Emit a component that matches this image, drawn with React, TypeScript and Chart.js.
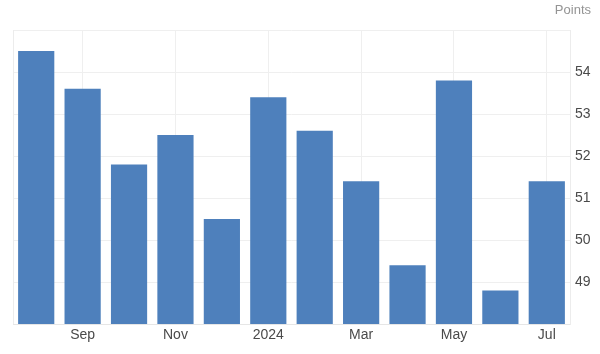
import React, { useEffect, useRef } from "react";
import { Chart, registerables } from "chart.js";

Chart.register(...registerables);

const categories = ["Aug", "Sep", "Oct", "Nov", "Dec", "2024", "Feb", "Mar", "Apr", "May", "Jun", "Jul"];
const values = [54.5, 53.6, 51.8, 52.5, 50.5, 53.4, 52.6, 51.4, 49.4, 53.8, 48.8, 51.4];
const shownXLabels = ["Sep", "Nov", "2024", "Mar", "May", "Jul"];
const yTickLabels = [49, 50, 51, 52, 53, 54];
const unitLabel = "Points";

const FONT = "'Liberation Sans', Arial, sans-serif";

export default function App() {
  const ref = useRef<HTMLCanvasElement>(null);
  useEffect(() => {
    const canvas = ref.current!;
    const framePlugin = {
      id: "frame",
      beforeDatasetsDraw(chart: any) {
        const { ctx, chartArea } = chart;
        ctx.save();
        ctx.strokeStyle = "#ececec";
        ctx.lineWidth = 1;
        ctx.beginPath();
        ctx.moveTo(chartArea.left + 0.5, chartArea.top);
        ctx.lineTo(chartArea.left + 0.5, chartArea.bottom);
        ctx.stroke();
        ctx.restore();
      },
      afterDraw(chart: any) {
        const { ctx } = chart;
        ctx.save();
        ctx.fillStyle = "#949494";
        ctx.font = `13px ${FONT}`;
        ctx.textAlign = "right";
        ctx.textBaseline = "middle";
        ctx.fillText(unitLabel, 591, 10);
        ctx.restore();
      },
    };
    const chart = new Chart(canvas, {
      type: "bar",
      data: {
        labels: categories,
        datasets: [
          {
            data: values,
            backgroundColor: "#4e80bc",
            borderWidth: 0,
            categoryPercentage: 1,
            barPercentage: 0.78,
          },
        ],
      },
      options: {
        animation: false,
        responsive: false,
        layout: { padding: { left: 13, top: 30, right: 0, bottom: 0 } },
        plugins: { legend: { display: false }, tooltip: { enabled: false }, title: { display: false } },
        scales: {
          x: {
            grid: {
              offset: false,
              color: (c: any) => (c.index % 2 === 1 ? "#efefef" : "transparent"),
              drawTicks: false,
            },
            border: { color: "#e6e6e6" },
            ticks: {
              autoSkip: false,
              maxRotation: 0,
              color: "#4a4a4a",
              font: { family: FONT, size: 14 },
              padding: 3,
              callback: (_v: any, i: number) => (shownXLabels.includes(categories[i]) ? categories[i] : ""),
            },
            afterFit: (s: any) => {
              s.height = 30;
            },
          },
          y: {
            position: "right",
            min: 48,
            max: 55,
            grid: { color: "#efefef", drawTicks: false },
            border: { color: "#ececec" },
            ticks: {
              stepSize: 1,
              color: "#4a4a4a",
              font: { family: FONT, size: 14 },
              padding: 5,
              callback: (v: any) => (yTickLabels.includes(Number(v)) ? String(v) : ""),
            },
            afterFit: (s: any) => {
              s.width = 30;
            },
          },
        },
      },
      plugins: [framePlugin],
    });
    return () => chart.destroy();
  }, []);
  return (
    <div style={{ position: "fixed", left: 0, top: 0, width: 600, height: 354, background: "#fff" }}>
      <canvas ref={ref} width={600} height={354} style={{ width: 600, height: 354, display: "block" }} />
    </div>
  );
}
